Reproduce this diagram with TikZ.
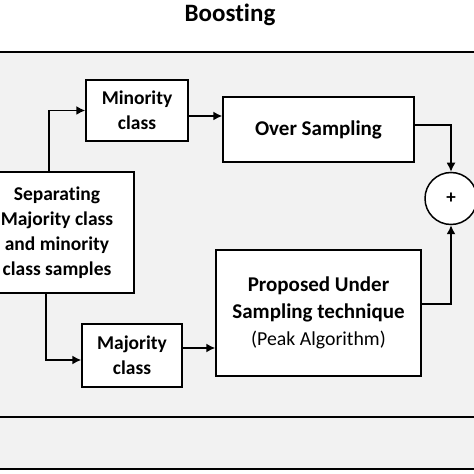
\documentclass[tikz,border=0pt]{standalone}
\usepackage{fontspec}
\setmainfont{Carlito}[Ligatures={NoCommon}]
\usetikzlibrary{arrows.meta}

\begin{document}
\begin{tikzpicture}[x=1pt,y=1pt,
  blockbox/.style={draw=drawColor,fill=white,line width=1.5pt,align=center,inner sep=0pt,
    font=\fontsize{19.5}{25}\selectfont\bfseries},
  flow/.style={draw=drawColor,line width=1.5pt,-{Latex[length=9pt,width=9pt]}}]
\definecolor[named]{drawColor}{rgb}{0.00,0.00,0.00}
\definecolor[named]{fillColor}{rgb}{0.95,0.95,0.95}
\path[use as bounding box,fill=white] (0,0) rectangle (474,474);

\node[text=drawColor,anchor=center,inner sep=0pt,font=\fontsize{25}{28}\selectfont\bfseries] (title) at (230,459) {Boosting};

% bands
\path[fill=fillColor] (-5,5) rectangle (480,422);
\path[draw=drawColor,line width=1.2pt] (-5,422) -- (480,422);
\path[draw=drawColor,line width=1.2pt] (-5, 57) -- (480, 57);
\path[draw=drawColor,line width=1.2pt] (-5,  5) -- (480,  5);

% blocks
\node[blockbox,minimum width=154,minimum height=121] (sep) at ( 57.0,241.5)
  {Separating\\Majority class\\and minority\\class samples};
\node[blockbox,minimum width=102,minimum height=61] (min) at (137.0,363.5) {Minority\\class};
\node[blockbox,minimum width=191,minimum height=65,font=\fontsize{21}{27}\selectfont\bfseries] (over) at (318.5,344.5) {Over Sampling};
\node[blockbox,minimum width=100,minimum height=63] (maj) at (132.0,118.5) {Majority\\class};
\node[blockbox,minimum width=205,minimum height=126,font=\fontsize{21}{27}\selectfont\bfseries] (prop) at (318.5,161.0)
  {Proposed Under\\Sampling technique\\{\mdseries\fontsize{19.8}{27}\selectfont (Peak Algorithm)}};
\node[blockbox,circle,minimum size=52,font=\fontsize{19}{20}\selectfont\bfseries] (sum) at (451,275.5) {+};

% arrows
\draw[flow] ([xshift=-8pt]sep.north) |- (min.west);
\draw[flow] ([yshift=-5.5pt]min.east) -- ([yshift=-5.5pt]min.east -| over.west);
\draw[flow] ([yshift=4.5pt]over.east) -| (sum.north);
\draw[flow] ([xshift=-11pt]sep.south) |- ([yshift=-4.5pt]maj.west);
\draw[flow] ([yshift=7.5pt]maj.east) -- ([yshift=7.5pt]maj.east -| prop.west);
\draw[flow] ([yshift=9pt]prop.east) -| (sum.south);
\end{tikzpicture}
\end{document}
